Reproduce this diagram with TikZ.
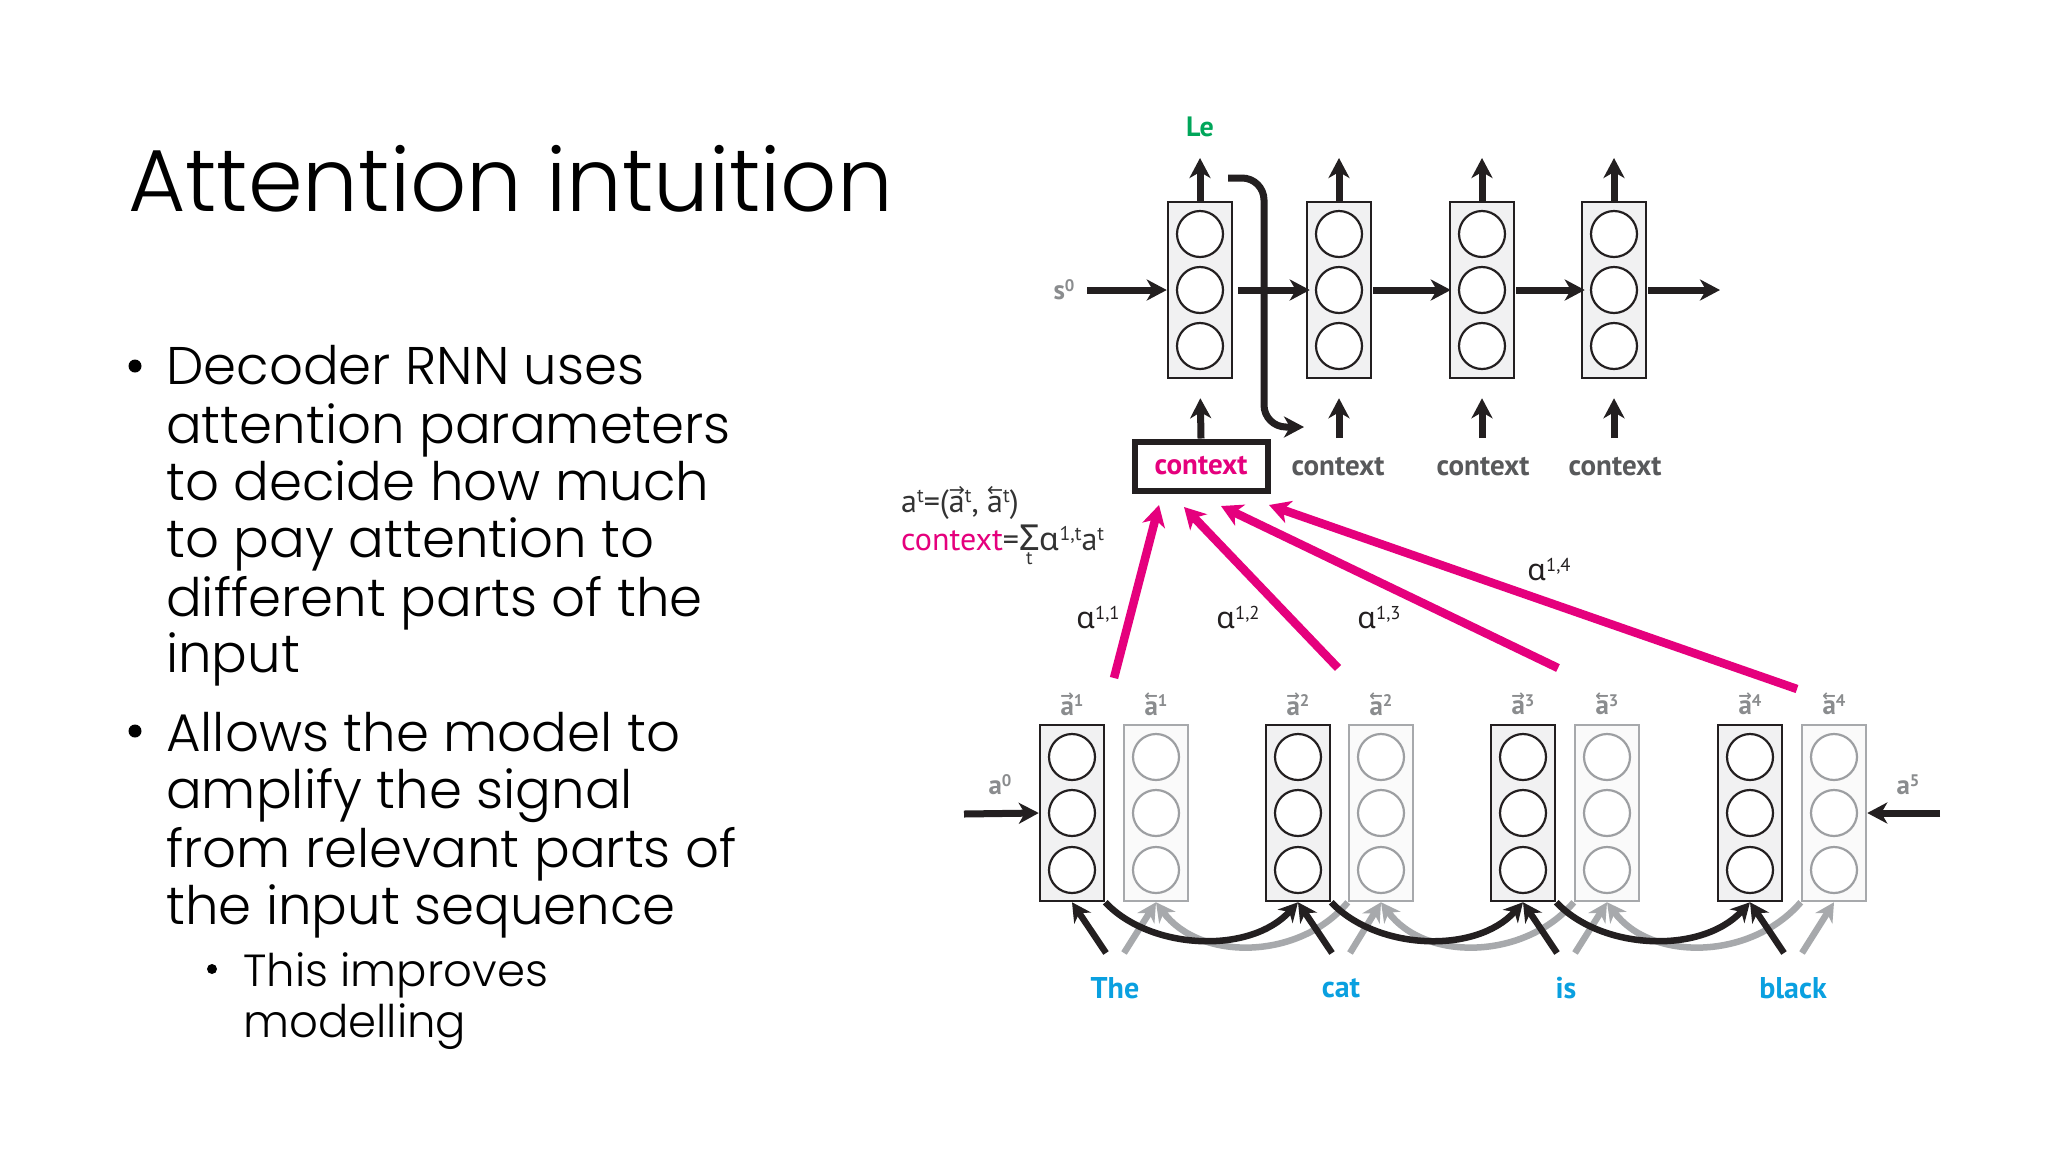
\documentclass[tikz,border=0pt]{standalone}
\usepackage{fontspec}
\usepackage{graphicx}
\usetikzlibrary{arrows.meta}
\setmainfont{Lato}
\newfontfamily\bodyf{Poppins}[UprightFont={* Light}]
\newfontfamily\dfont{PT Sans}
\newfontfamily\gfont{Noto Sans}
\newfontfamily\djv{DejaVu Sans}
\definecolor{mag}{HTML}{E5007D}
\definecolor{blk}{HTML}{231F20}
\definecolor{boxfill}{HTML}{F1F1F2}
\definecolor{gboxfill}{HTML}{FAFAFA}
\definecolor{gline}{HTML}{A7A9AC}
\definecolor{gcirc}{HTML}{9D9FA2}
\definecolor{lab}{HTML}{8A8C8E}
\definecolor{ctxgray}{HTML}{58595B}
\definecolor{wblue}{HTML}{0AA0E0}
\definecolor{lgreen}{HTML}{00A65A}
\definecolor{ftxt}{HTML}{333333}
\newcommand\arrover[2]{\ooalign{#2\cr\hidewidth\raisebox{0.50em}{\scalebox{0.6}[0.6]{\djv #1}}\hidewidth\cr}}
\newcommand\sps[1]{\raisebox{0.30em}{\scalebox{0.62}{#1}}}
\newcommand\va[1]{\arrover{→}{a}\sps{#1}}
\newcommand\vb[1]{\arrover{←}{a}\sps{#1}}
\newcommand\sumt{\setbox0\hbox{\gfont\scalebox{1.12}{Σ}}\vtop{\offinterlineskip\copy0\kern3pt\hbox to\wd0{\hss\scalebox{0.6}{t}\hss}}}
\tikzset{
  titlefont/.style={font=\bodyf\fontsize{88}{106}\selectfont, text=black, inner sep=0pt, anchor=base west},
  bodyfont/.style={font=\bodyf\fontsize{53}{58}\selectfont, text=black, inner sep=0pt, anchor=base west},
  subfont/.style={font=\bodyf\fontsize{45}{51}\selectfont, text=black, inner sep=0pt, anchor=base west},
  dbox/.style={draw=blk, fill=boxfill, line width=2.5pt, minimum width=64pt, minimum height=176pt, inner sep=0pt},
  gbox/.style={draw=gline, fill=gboxfill, line width=2.5pt, minimum width=64pt, minimum height=176pt, inner sep=0pt},
  dcirc/.style={circle, draw=blk, fill=white, line width=2.2pt, minimum size=46pt, inner sep=0pt},
  gcircle/.style={circle, draw=gcirc, fill=white, line width=2.2pt, minimum size=46pt, inner sep=0pt},
  arr/.style={draw=blk, line width=7pt, -{Stealth[length=20pt,width=21pt,inset=6pt]}},
  warr/.style={draw=blk, line width=6.5pt, -{Stealth[length=19pt,width=20pt,inset=6pt]}},
  garr/.style={draw=gline, line width=6.5pt, -{Stealth[length=19pt,width=20pt,inset=6pt]}},
  marr/.style={draw=mag, line width=8.5pt, -{Stealth[length=21pt,width=23pt,inset=6pt]}},
  glab/.style={font=\dfont\bfseries\fontsize{27}{32}\selectfont, text=lab, inner sep=0pt},
  ctxlab/.style={font=\dfont\bfseries\fontsize{29}{34}\selectfont, text=ctxgray, inner sep=0pt},
  wordlab/.style={font=\dfont\bfseries\fontsize{30}{34}\selectfont, text=wblue, inner sep=0pt},
  alab/.style={font=\dfont\fontsize{30}{34}\selectfont, text=blk, inner sep=0pt},
  flab/.style={font=\dfont\fontsize{32}{36}\selectfont, text=ftxt, inner sep=0pt, anchor=base west},
}
\begin{document}
\begin{tikzpicture}[x=1pt,y=-1pt]
\useasboundingbox (0,0) rectangle (2048,1152);
\fill[white] (0,0) rectangle (2048,1152);

% ---------- left text ----------
\node[titlefont] (title) at (128,211) {Attention intuition};
\fill[black] (135,366) circle (6.5);
\node[bodyfont] (l1) at (166,384) {Decoder RNN uses};
\node[bodyfont] (l2) at (166,443) {attention parameters};
\node[bodyfont] (l3) at (166,500) {to decide how much};
\node[bodyfont] (l4) at (166,557) {to pay attention to};
\node[bodyfont] (l5) at (166,616) {different parts of the};
\node[bodyfont] (l6) at (166,672) {input};
\fill[black] (135,731) circle (6.5);
\node[bodyfont] (m1) at (166,751) {Allows the model to};
\node[bodyfont] (m2) at (166,808) {amplify the signal};
\node[bodyfont] (m3) at (166,867) {from relevant parts of};
\node[bodyfont] (m4) at (166,924) {the input sequence};
\fill[black] (212,969) circle (5);
\node[subfont] (s1) at (243,986) {This improves};
\node[subfont] (s2) at (243,1037) {modelling};

% ---------- decoder ----------
\foreach \i/\x in {1/1200,2/1339,3/1482,4/1614}{
  \node[dbox] (d\i) at (\x,290) {};
  \node[dcirc] (d\i a) at (\x,234) {};
  \node[dcirc] (d\i b) at (\x,290) {};
  \node[dcirc] (d\i c) at (\x,346) {};
  \coordinate (u\i) at (\x,158);
  \draw[arr] (d\i.north) -- (u\i);
}
\node[font=\dfont\bfseries\fontsize{28}{32}\selectfont, text=lgreen, inner sep=0pt] (le) at (1200,127) {Le};
\node[glab] (s0) at (1064,290) {s\sps{0}};
\coordinate (s0s) at (1087,290);
\draw[arr] (s0s) -- (d1.west);
\draw[arr, shorten <=5pt, shorten >=-4pt] (d1.east) -- (d2.west);
\draw[arr, shorten <=1pt, shorten >=-2pt] (d2.east) -- (d3.west);
\draw[arr, shorten <=1pt, shorten >=-4pt] (d3.east) -- (d4.west);
\coordinate (oute) at (1720,290);
\draw[arr, shorten <=1pt] (d4.east) -- (oute);

% context boxes
\node[draw=blk, line width=6pt, minimum width=133pt, minimum height=49pt, inner sep=0pt,
      font=\dfont\bfseries\fontsize{29}{34}\selectfont, text=mag] (ctx) at (1201,466) {context};
\node[ctxlab] (c2) at (1338,467) {context};
\node[ctxlab] (c3) at (1483,467) {context};
\node[ctxlab] (c4) at (1615,467) {context};
\draw[arr, shorten >=19pt] (ctx.north) -- (d1.south);
\coordinate (b2) at (1339,438);
\coordinate (b3) at (1482,438);
\coordinate (b4) at (1614,438);
\draw[arr, shorten >=19pt] (b2) -- (d2.south);
\draw[arr, shorten >=19pt] (b3) -- (d3.south);
\draw[arr, shorten >=19pt] (b4) -- (d4.south);

% curved feedback arrow
\coordinate (cv0) at (1228,178);
\coordinate (cv1) at (1304,427);
\draw[arr, rounded corners=22pt] (cv0) -- (1264,178) -- (1264,427) -- (cv1);

% formulas
\node[flab] (f1) at (901,512) {a\sps{t}=(\va{t}, \vb{t})};
\node[flab] (f2) at (901,550) {{\color{mag}context}=\sumt{\gfont α}\sps{1,t}a\sps{t}};

% ---------- encoder ----------
\foreach \i/\x/\g in {1/1072/1156,2/1298/1381,3/1523/1607,4/1750/1834}{
  \node[gbox] (g\i) at (\g,813) {};
  \node[gcircle] (g\i a) at (\g,757) {};
  \node[gcircle] (g\i b) at (\g,813) {};
  \node[gcircle] (g\i c) at (\g,870) {};
  \node[dbox] (e\i) at (\x,813) {};
  \node[dcirc] (e\i a) at (\x,757) {};
  \node[dcirc] (e\i b) at (\x,813) {};
  \node[dcirc] (e\i c) at (\x,870) {};
  \node[glab] (ea\i) at (\x,705) {\va{\i}};
  \node[glab] (ga\i) at (\g,705) {\vb{\i}};
}
% gray backward curves
\draw[garr] (g2.south west) .. controls (1300,960) and (1200,962) .. (g1.south);
\draw[garr] (g3.south west) .. controls (1525,960) and (1425,962) .. (g2.south);
\draw[garr] (g4.south west) .. controls (1751,960) and (1651,962) .. (g3.south);
% words
\foreach \i/\m/\w in {1/1115/The,2/1341/cat,3/1566/is,4/1793/black}{
  \node[wordlab] (w\i) at (\m,988) {\w};
  \coordinate (wb\i) at ({\m-9},953);
  \coordinate (wg\i) at ({\m+9},953);
  \draw[garr] (wg\i) -- (g\i.south);
}
% black forward curves
\draw[warr] (e1.south east) .. controls (1150,950) and (1250,955) .. (e2.south);
\draw[warr] (e2.south east) .. controls (1376,950) and (1476,955) .. (e3.south);
\draw[warr] (e3.south east) .. controls (1601,950) and (1701,955) .. (e4.south);
\foreach \i in {1,2,3,4}{
  \draw[warr] (wb\i) -- (e\i.south);
}
% side inputs
\node[glab] (a0) at (1000,785) {a\sps{0}};
\coordinate (a0s) at (964,814);
\draw[arr] (a0s) -- (e1.west);
\node[glab] (a5) at (1908,785) {a\sps{5}};
\coordinate (a5s) at (1940,813);
\draw[arr] (a5s) -- (g4.east);

% ---------- attention arrows ----------
\coordinate (m1s) at (1114,678); \coordinate (m1t) at (1159,505);
\coordinate (m2s) at (1338,668); \coordinate (m2t) at (1184,507);
\coordinate (m3s) at (1558,668); \coordinate (m3t) at (1221,506);
\coordinate (m4s) at (1797,689); \coordinate (m4t) at (1269,505);
\draw[marr] (m1s) -- (m1t);
\draw[marr] (m2s) -- (m2t);
\draw[marr] (m3s) -- (m3t);
\draw[marr] (m4s) -- (m4t);
\node[alab] (al1) at (1098,618) {{\gfont α}\sps{1,1}};
\node[alab] (al2) at (1238,618) {{\gfont α}\sps{1,2}};
\node[alab] (al3) at (1379,618) {{\gfont α}\sps{1,3}};
\node[alab] (al4) at (1549,570) {{\gfont α}\sps{1,4}};
\end{tikzpicture}
\end{document}
